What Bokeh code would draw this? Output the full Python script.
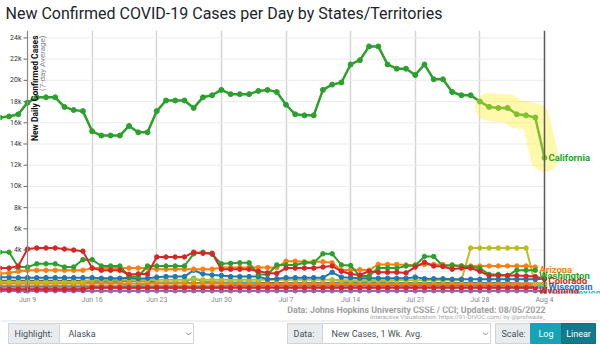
import numpy as np
import pandas as pd
from bokeh.plotting import figure
from bokeh.models import ColumnDataSource, Range1d, FixedTicker, Span, LabelSet, Label
from bokeh.layouts import column
from bokeh.embed import file_html
from bokeh.resources import INLINE
from bokeh.core.properties import value

FONT = "Roboto"

# ---------------- data ----------------
title_text = "New Confirmed COVID-19 Cases per Day by States/Territories"
dates = pd.date_range("2022-06-06", "2022-08-04", freq="D")
ref_day = pd.Timestamp("2022-06-09")
tick_dates = pd.date_range("2022-06-09", "2022-08-04", freq="7D")
tick_labels = ["Jun 9", "Jun 16", "Jun 23", "Jun 30", "Jul 7", "Jul 14", "Jul 21", "Jul 28", "Aug 4"]
y_ticks = [0, 2000, 4000, 6000, 8000, 10000, 12000, 14000, 16000, 18000, 20000, 22000, 24000]
y_tick_labels = ["0", "2k", "4k", "6k", "8k", "10k", "12k", "14k", "16k", "18k", "20k", "22k", "24k"]

# values in thousands of cases (7-day average), Jun 6 onward
california = [16.5, 16.6, 16.8, 17.9, 18.4, 18.4, 18.4, 17.5, 17.2, 17.1,
              15.2, 14.8, 14.8, 14.8, 15.7, 15.1, 15.1, 17.1, 18.1, 18.1,
              18.1, 17.4, 18.4, 18.6, 19.1, 18.7, 18.7, 18.7, 19.0, 19.1,
              18.9, 17.7, 16.8, 16.7, 16.7, 19.1, 19.6, 19.8, 21.5, 21.9,
              23.2, 23.2, 21.5, 21.1, 21.1, 20.5, 21.5, 20.1, 20.1, 18.9,
              18.6, 18.6, 18.0, 17.5, 17.4, 17.4, 16.8, 16.7, 16.5, 12.7]
washington = [3.8, 3.8, 2.4, 2.4, 2.7, 2.7, 2.7, 2.4, 2.4, 3.1,
              3.1, 2.5, 2.5, 2.5, 1.5, 1.5, 2.5, 2.5, 2.5, 2.5,
              2.5, 3.65, 3.8, 3.6, 2.7, 2.75, 2.8, 2.8, 1.7, 1.7,
              2.6, 2.6, 2.6, 2.8, 2.8, 3.65, 3.65, 2.6, 2.55, 1.55,
              1.55, 2.3, 2.3, 2.3, 2.5, 2.55, 3.4, 3.4, 2.5, 2.6,
              2.5, 2.4, 2.3, 1.7, 1.7, 1.6, 2.1, 2.1, 2.1]
colorado = [2.3, 2.3, 2.5, 4.1, 4.2, 4.2, 4.2, 4.1, 4.0, 3.9,
            2.3, 2.1, 2.1, 2.1, 1.7, 1.75, 1.75, 3.35, 3.35, 3.35,
            3.35, 3.8, 3.7, 3.7, 2.2, 2.2, 2.2, 2.2, 2.0, 1.85,
            1.8, 2.3, 2.3, 2.3, 2.3, 2.4, 2.5, 2.0, 1.75, 1.65,
            2.0, 1.9, 1.9, 1.9, 1.85, 2.4, 2.85, 2.5, 2.45, 2.2,
            2.3, 2.3, 2.0, 1.6, 1.6, 1.6, 1.6, 1.55, 1.5, 1.3]
arizona = [1.8, 1.85, 2.0, 2.1, 2.1, 2.1, 2.1, 2.1, 2.1, 2.1,
           2.3, 2.3, 2.3, 2.3, 2.3, 2.3, 2.3, 2.2, 2.2, 2.2,
           2.2, 2.2, 2.2, 2.2, 2.35, 2.35, 2.35, 2.35, 2.35, 2.35,
           2.35, 2.95, 2.95, 2.9, 2.9, 2.9, 2.8, 2.1, 2.15, 2.15,
           2.1, 2.65, 2.65, 2.65, 2.6, 2.6, 2.65, 2.65, 2.65, 2.5,
           2.5, 2.5, 2.5, 2.5, 2.5, 2.5, 2.5, 2.5, 2.4]
wisconsin = [1.45, 1.45, 1.4, 1.4, 1.4, 1.4, 1.4, 1.4, 1.4, 1.4,
             1.4, 1.35, 1.35, 1.35, 1.4, 1.3, 1.35, 1.45, 1.5, 1.5,
             1.5, 2.1, 1.75, 1.65, 1.6, 1.5, 1.5, 1.5, 1.5, 1.25,
             1.3, 1.4, 1.4, 1.4, 1.4, 1.4, 1.9, 1.45, 1.4, 1.35,
             1.35, 1.35, 1.35, 1.35, 1.35, 1.45, 1.3, 1.3, 1.3, 1.25,
             1.25, 1.25, 1.25, 1.25, 1.25, 1.25, 1.25, 1.25, 1.25, 1.3]
utah = [1.0, 1.0, 1.0, 1.0, 1.0, 1.0, 1.0, 1.0, 1.0, 1.0,
        1.2, 1.2, 1.2, 1.2, 1.2, 1.15, 1.15, 1.2, 1.2, 1.2,
        1.2, 1.25, 1.2, 1.2, 1.2, 1.2, 1.2, 1.2, 1.2, 1.2,
        1.2, 1.2, 1.2, 1.2, 1.2, 1.2, 1.2, 1.15, 1.15, 1.15,
        1.15, 1.15, 1.15, 1.15, 1.15, 1.15, 1.15, 1.15, 1.15, 1.15,
        1.15, 4.2, 4.2, 4.2, 4.2, 4.2, 4.2, 4.2, 0.8, 0.75]
oregon = [1.1, 1.1, 1.1, 1.1, 1.1, 1.1, 1.1, 1.1, 1.1, 1.1,
          1.1, 1.1, 1.1, 1.1, 1.1, 1.1, 1.1, 0.9, 0.9, 0.9,
          0.9, 0.9, 0.9, 0.9, 0.9, 0.9, 0.9, 0.9, 0.9, 0.9,
          0.9, 0.9, 0.9, 0.9, 0.9, 0.9, 0.9, 0.95, 0.95, 0.95,
          0.95, 0.95, 0.95, 0.9, 0.9, 0.9, 0.9, 0.9, 0.9, 0.9,
          0.9, 0.9, 0.9, 0.9, 0.9, 0.9, 0.85, 0.85, 0.85, 0.85]
new_mexico = [0.95, 0.95, 0.95, 0.95, 0.95, 0.95, 0.95, 0.95, 0.95, 0.95,
              0.95, 0.95, 0.95, 0.95, 0.6, 0.65, 0.9, 0.95, 0.95, 0.95,
              0.95, 1.35, 1.0, 1.0, 0.95, 0.95, 0.95, 0.95, 0.95, 0.7,
              0.75, 0.85, 0.85, 0.85, 0.85, 0.85, 0.85, 0.85, 0.85, 0.85,
              0.85, 0.85, 0.85, 0.85, 0.85, 0.85, 0.85, 0.85, 0.85, 0.85,
              0.85, 0.85, 0.85, 0.85, 0.85, 0.85, 0.7, 0.7, 0.7, 0.55]
nevada = [0.85, 0.85, 0.85, 0.85, 0.85, 0.85, 0.85, 0.85, 0.85, 0.85,
          0.85, 0.85, 0.85, 0.85, 0.85, 0.85, 0.85, 0.85, 0.85, 0.85,
          0.85, 0.85, 0.85, 0.85, 0.85, 0.8, 0.8, 0.8, 0.8, 0.8,
          0.8, 0.8, 0.8, 0.8, 0.8, 0.8, 0.8, 0.8, 0.8, 0.8,
          0.8, 0.8, 0.8, 0.8, 0.8, 0.8, 0.8, 0.8, 0.8, 0.8,
          0.8, 0.8, 0.8, 0.8, 0.8, 0.8, 0.8, 0.8, 0.8, 0.8]
montana = [0.6, 0.6, 0.6, 0.6, 0.6, 0.6, 0.6, 0.6, 0.6, 0.6,
           0.6, 0.6, 0.6, 0.6, 0.6, 0.6, 0.6, 0.6, 0.6, 0.6,
           0.6, 0.6, 0.6, 0.6, 0.6, 0.65, 0.65, 0.65, 0.65, 0.65,
           0.65, 0.65, 0.65, 0.65, 0.65, 0.65, 0.65, 0.65, 0.65, 0.65,
           0.65, 0.65, 0.65, 0.65, 0.65, 0.65, 0.65, 0.65, 0.65, 0.65,
           0.65, 0.65, 0.65, 0.65, 0.65, 0.65, 0.55, 0.55, 0.55]
idaho = [0.45, 0.45, 0.45, 0.45, 0.45, 0.45, 0.45, 0.45, 0.45, 0.45,
         0.45, 0.45, 0.45, 0.45, 0.45, 0.45, 0.45, 0.45, 0.45, 0.45,
         0.45, 0.45, 0.45, 0.45, 0.45, 0.5, 0.5, 0.5, 0.5, 0.5,
         0.5, 0.5, 0.5, 0.5, 0.5, 0.5, 0.5, 0.5, 0.5, 0.5,
         0.5, 0.5, 0.5, 0.5, 0.5, 0.5, 0.5, 0.5, 0.5, 0.5,
         0.5, 0.5, 0.5, 0.5, 0.5, 0.5, 0.45, 0.45, 0.45, 0.45]
wyoming = [0.3, 0.3, 0.3, 0.3, 0.3, 0.3, 0.3, 0.3, 0.3, 0.3,
           0.45, 0.45, 0.45, 0.45, 0.45, 0.45, 0.45, 0.45, 0.45, 0.45,
           0.45, 0.45, 0.45, 0.45, 0.45, 0.45, 0.45, 0.45, 0.45, 0.45,
           0.45, 0.45, 0.45, 0.45, 0.45, 0.45, 0.45, 0.45, 0.45, 0.45,
           0.45, 0.45, 0.45, 0.45, 0.45, 0.45, 0.45, 0.45, 0.45, 0.45,
           0.45, 0.45, 0.45, 0.45, 0.45, 0.45, 0.45, 0.45, 0.45]
vermont = [0.15, 0.15, 0.15, 0.15, 0.15, 0.15, 0.15, 0.15, 0.15, 0.15,
           0.15, 0.15, 0.15, 0.15, 0.15, 0.15, 0.15, 0.15, 0.15, 0.15,
           0.15, 0.15, 0.15, 0.15, 0.15, 0.15, 0.15, 0.15, 0.15, 0.15,
           0.15, 0.15, 0.15, 0.15, 0.15, 0.15, 0.15, 0.15, 0.15, 0.15,
           0.15, 0.15, 0.15, 0.15, 0.15, 0.15, 0.15, 0.15, 0.15, 0.15,
           0.15, 0.15, 0.15, 0.15, 0.15, 0.15, 0.15, 0.15, 0.15, 0.15]

# name, values, line colour, label colour (None = label hidden), label offset px (neg = down)
series = [
    ("Vermont", vermont, "#9467bd", None, 0),
    ("Idaho", idaho, "#e377c2", None, 0),
    ("Montana", montana, "#7f7f7f", "#555555", -9),
    ("Oregon", oregon, "#8c564b", None, 0),
    ("New Mexico", new_mexico, "#17becf", "#17becf", -6),
    ("Nevada", nevada, "#ff7f0e", None, 0),
    ("Wyoming", wyoming, "#d62728", "#d62728", -3),
    ("Utah", utah, "#bcbd22", None, 0),
    ("Wisconsin", wisconsin, "#1f77b4", "#1f77b4", -8),
    ("Arizona", arizona, "#ff7f0e", "#ff7f0e", -2.5),
    ("Washington", washington, "#2ca02c", "#2ca02c", -5),
    ("Colorado", colorado, "#d62728", "#d62728", -2),
]

days = np.array((dates - ref_day).days, dtype=float)
tick_x = [float(d) for d in (tick_dates - ref_day).days]

# ---------------- page geometry (pixels) ----------------
HEADER_H = 26
FRAME_TOP, FRAME_BOTTOM = 30, 296          # page rows of the plot frame
MAIN_BOTTOM = 306                           # page row where the main figure ends
Y0, Y1 = -93, 24700

# ---------------- header ----------------
h = figure(width=600, height=HEADER_H, x_range=Range1d(0, 600), y_range=Range1d(HEADER_H, 0),
           output_backend="svg", toolbar_location=None,
           x_axis_location=None, y_axis_location=None, min_border=0)
h.outline_line_color = None
h.grid.visible = False
h.text(x=[5], y=[12.5], text=[title_text], text_baseline="middle", text_align="left",
       text_font=value(FONT), text_font_size="16px", text_color="#212529")

# ---------------- main chart ----------------
p = figure(width=600, height=MAIN_BOTTOM - HEADER_H,
           x_range=Range1d(-2.925, 62.066), y_range=Range1d(Y0, Y1),
           output_backend="svg", toolbar_location=None, y_axis_location=None,
           min_border_left=0, min_border_right=0, min_border_top=FRAME_TOP - HEADER_H,
           min_border_bottom=MAIN_BOTTOM - FRAME_BOTTOM)
p.outline_line_color = None
p.background_fill_color = "white"
p.border_fill_color = "white"


def y_at(py):
    """data value that sits at page pixel row py"""
    return Y0 + (FRAME_BOTTOM - py) * (Y1 - Y0) / (FRAME_BOTTOM - FRAME_TOP)


p.xaxis.ticker = FixedTicker(ticks=tick_x)
p.xaxis.major_label_overrides = {t: l for t, l in zip(tick_x, tick_labels)}
p.xaxis.axis_line_color = None
p.xaxis.major_tick_line_color = None
p.xaxis.minor_tick_line_color = None
p.xaxis.major_tick_out = 0
p.xaxis.major_tick_in = 0
p.xaxis.minor_tick_out = 0
p.xaxis.major_label_text_font = FONT
p.xaxis.major_label_text_font_size = "7px"
p.xaxis.major_label_text_color = "#888888"
p.xaxis.major_label_standoff = 2

p.xgrid.ticker = FixedTicker(ticks=tick_x[1:-1])
p.xgrid.grid_line_color = "#d4d4d4"
p.xgrid.grid_line_width = 1.5
p.ygrid.visible = False

# horizontal grid lines limited to the date span
p.segment(x0=tick_x[0], x1=tick_x[-1], y0=y_ticks[1:], y1=y_ticks[1:],
          line_color="#ebebeb", line_width=1)

p.add_layout(Span(location=tick_x[0], dimension="height", line_color="#8a8a8a", line_width=1.2))
p.add_layout(Span(location=tick_x[-1], dimension="height", line_color="#5a5a5a", line_width=1.5))

# y tick labels / ticks along the Jun 9 axis
ysrc = ColumnDataSource(dict(x=[tick_x[0]] * len(y_ticks), y=y_ticks, t=y_tick_labels))
p.ray(x="x", y="y", source=ysrc, length=4, length_units="screen", angle=np.pi,
      line_color="#666666", line_width=1)
p.text(x="x", y="y", text="t", source=ysrc, x_offset=-6, text_align="right",
       text_baseline="middle", text_font=value(FONT), text_font_size="7px", text_color="#333333")

# lines
label_rows = dict(x=[], y=[], text=[], color=[], yoff=[])
for name, vals, col, lcol, off in series:
    n = len(vals)
    xs = days[:n]
    ys = np.array(vals) * 1000
    p.line(xs, ys, line_color=col, line_width=2)
    p.scatter(xs, ys, size=4.5, fill_color=col, line_color=col)
    if lcol is not None:
        label_rows["x"].append(xs[-1])
        label_rows["y"].append(ys[-1])
        label_rows["text"].append(name)
        label_rows["color"].append(lcol)
        label_rows["yoff"].append(off)

ca = np.array(california) * 1000
p.line(days, ca, line_color="#2ca02c", line_width=2.5)
p.scatter(days, ca, size=5, fill_color="#2ca02c", line_color="#2ca02c")
# highlight of the last week
p.line(days[-7:], ca[-7:], line_color="#ffee33", line_width=28, line_alpha=0.4,
       line_cap="round", line_join="round")
label_rows["x"].append(days[-1])
label_rows["y"].append(ca[-1])
label_rows["text"].append("California")
label_rows["color"].append("#2ca02c")
label_rows["yoff"].append(0)

p.add_layout(LabelSet(x="x", y="y", text="text", source=ColumnDataSource(label_rows),
                      x_offset=4, y_offset="yoff", text_color="color",
                      text_font=value(FONT), text_font_size="9.5px", text_font_style="bold",
                      text_baseline="middle", text_align="left"))

# axis title (rotated, inside the plot)
p.add_layout(Label(x=tick_x[0], y=y_at(35), x_offset=2, text="New Daily Confirmed Cases",
                   angle=np.pi / 2, text_align="right", text_baseline="top",
                   text_font=FONT, text_font_size="8.5px", text_font_style="bold",
                   text_color="#111111"))
p.add_layout(Label(x=tick_x[0], y=y_at(35), x_offset=10, text="(7-day Average)",
                   angle=np.pi / 2, text_align="right", text_baseline="top",
                   text_font=FONT, text_font_size="8px", text_color="#888888"))

# ---------------- footer: source notes + controls ----------------
source_text = "Data: Johns Hopkins University CSSE / CCI; Updated: 08/05/2022"
credit_text = "Interactive Visualization: https://91-DIVOC.com/ by @profwade_"
addon_texts = ["Highlight:", "Data:", "Scale:"]
select_texts = ["Alaska", "New Cases, 1 Wk. Avg."]
button_texts = ["Log", "Linear"]

CH = 344 - MAIN_BOTTOM


def fy(py):
    """footer-local row for page pixel row py"""
    return py - MAIN_BOTTOM


c = figure(width=600, height=CH, x_range=Range1d(0, 600), y_range=Range1d(CH, 0),
           output_backend="svg", toolbar_location=None,
           x_axis_location=None, y_axis_location=None, min_border=0)
c.outline_line_color = None
c.grid.visible = False
c.background_fill_color = "white"
c.border_fill_color = "white"

c.text(x=[545], y=[fy(309)], text=[source_text], text_align="right", text_baseline="middle",
       text_font=value(FONT), text_font_size="8.8px", text_font_style="bold", text_color="#a0a0a0")
c.text(x=[545], y=[fy(316.5)], text=[credit_text], text_align="right", text_baseline="middle",
       text_font=value(FONT), text_font_size="6.2px", text_color="#a8a8a8")
c.segment(x0=[0], x1=[600], y0=[fy(320.5)], y1=[fy(320.5)], line_color="#e3e3e3", line_width=1)

top, bot, mid = fy(323), fy(343), fy(333)
c.quad(left=[8, 287, 495], right=[59, 322, 530], top=[top] * 3, bottom=[bot] * 3,
       fill_color="#e9ecef", line_color="#ced4da")
c.quad(left=[59, 322], right=[193, 490], top=[top] * 2, bottom=[bot] * 2,
       fill_color="white", line_color="#ced4da")
c.quad(left=[530, 561], right=[561, 595], top=[top] * 2, bottom=[bot] * 2,
       fill_color=["#17a2b8", "#117a8b"], line_color=["#17a2b8", "#10707f"])
c.text(x=[14, 293, 501], y=[mid] * 3, text=addon_texts, text_baseline="middle",
       text_font=value(FONT), text_font_size="9px", text_color="#495057")
c.text(x=[68, 331], y=[mid] * 2, text=select_texts, text_baseline="middle",
       text_font=value(FONT), text_font_size="9px", text_color="#495057")
c.text(x=[545.5, 578], y=[mid] * 2, text=button_texts, text_baseline="middle", text_align="center",
       text_font=value(FONT), text_font_size="9px", text_color="white")
c.multi_line(xs=[[185.5, 188, 190.5], [482.5, 485, 487.5]],
             ys=[[mid - 1, mid + 1.5, mid - 1], [mid - 1, mid + 1.5, mid - 1]],
             line_color="#888888", line_width=1)

layout = column(h, p, c, spacing=0)
open("out.html", "w").write(file_html(layout, INLINE))
